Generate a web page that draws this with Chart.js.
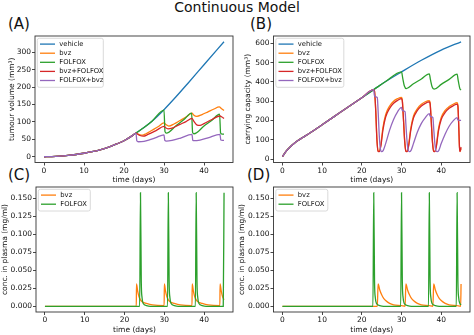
<!DOCTYPE html>
<html>
<head>
<meta charset="utf-8">
<script src="https://cdn.jsdelivr.net/npm/chart.js@4.4.0/dist/chart.umd.min.js"></script>
<style>
  body { margin: 0; background: #fff; width: 474px; height: 335px; overflow: hidden; position: relative; font-family: "DejaVu Sans", sans-serif; }
  .lbl { position: absolute; color: #111; white-space: nowrap; }
  .pane { position: absolute; }
</style>
</head>
<body>
<div class="lbl" style="left:0;width:474px;text-align:center;top:0;font-size:14px;line-height:14px">Continuous Model</div>
<div class="lbl" style="left:8px;top:17px;font-size:15px;line-height:15px">(A)</div>
<div class="lbl" style="left:250px;top:17px;font-size:15px;line-height:15px">(B)</div>
<div class="lbl" style="left:8px;top:168px;font-size:15px;line-height:15px">(C)</div>
<div class="lbl" style="left:247px;top:168px;font-size:15px;line-height:15px">(D)</div>

<div class="pane" style="left:0;top:28px;width:237px;height:162px"><canvas id="chartA"></canvas></div>
<div class="pane" style="left:237px;top:28px;width:237px;height:162px"><canvas id="chartB"></canvas></div>
<div class="pane" style="left:0;top:182px;width:237px;height:153px"><canvas id="chartC"></canvas></div>
<div class="pane" style="left:237px;top:182px;width:237px;height:153px"><canvas id="chartD"></canvas></div>

<script>
// ---- data ----
const xTicks = [0, 10, 20, 30, 40]
const volTicks = [0, 50, 100, 150, 200, 250, 300]
const capTicks = [0, 100, 200, 300, 400, 500, 600]
const concTicks = [0, 0.025, 0.05, 0.075, 0.1, 0.125, 0.15]

const armsAB = ["vehicle", "bvz", "FOLFOX", "bvz+FOLFOX", "FOLFOX+bvz"]
const armsCD = ["bvz", "FOLFOX"]

// (A) tumour volume, [day, mm^3]
const volPre = [[0,0],[2,0.5],[4,1.8],[6,3.8],[8,6.5],[10,10],[12,14.5],[14,20],[16,27],[18,36],[20,46],[22,60],[23,68]]
const volVehicle = [...volPre, [25,84],[27,102],[30,135],[33,172],[36,211],[40,264],[45,330]]
const volBvz = [...volPre, [23.3,66],[24,63],[24.6,62],[25.5,66],[27,76],[28.5,86],[30,97],[30.4,93],[31.2,88],[32.5,94],[34,104],[35.5,114],[37,125],[37.4,120],[38.2,116],[39.5,121],[41,129],[42.5,137],[43.8,143],[44.4,138],[45,133]]
const volFolfox = [...volPre, [25,84],[27,102],[30,134],[30.25,72],[30.6,68],[33,89],[35,107],[36.9,125],[37.15,70],[37.5,66],[40,88],[42,105],[43.9,122],[44.15,68],[44.5,65],[45,65]]
const volBvzFolfox = [...volPre, [23.3,66],[24,61],[24.8,59],[26,64],[28,75],[30,87],[30.4,83],[31,80],[32,82],[34,93],[35.5,101],[37,110],[37.4,103],[38.3,91],[39,90],[40,95],[42,107],[44,117],[44.5,114],[45,110]]
const volFolfoxBvz = [...volPre, [23.2,46],[23.6,43],[25,44],[26.5,49],[28,55],[30,63],[30.2,47],[30.6,45],[32,47],[34,53],[37,64],[37.2,47],[37.6,46],[39,48],[41,54],[44,64],[44.2,48],[44.6,47],[45,47]]

// (B) carrying capacity, [day, mm^3]
const capPre = [[0,12],[1,42],[2,64],[3,82],[4,97],[5,110],[7,136],[10,178],[13,220],[16,262],[20,318],[23,360]]
const capVehicle = [...capPre, [26,402],[30,452],[35,512],[40,565],[45,608]]
const capBvz = [...capPre, [23.2,352],[23.5,255],[23.8,105],[24.1,42],[24.4,40],[24.8,75],[25.3,160],[26,230],[27,275],[28,300],[29,313],[30,320],[30.2,306],[30.5,205],[30.8,95],[31.1,42],[31.4,40],[31.8,75],[32.3,155],[33,222],[34,262],[35,284],[36,297],[37,303],[37.2,292],[37.5,195],[37.8,90],[38.1,42],[38.4,40],[38.8,75],[39.3,155],[40,215],[41,252],[42,272],[43,284],[44,292],[44.2,280],[44.4,185],[44.6,65],[44.75,40],[45,55]]
const capFolfox = [...capPre, [26,402],[30,452],[30.3,420],[30.7,380],[31.2,365],[33,390],[35,415],[37,442],[37.3,410],[37.7,375],[38.2,362],[40,387],[42,413],[44,440],[44.3,405],[44.7,365],[45,358]]
const capBvzFolfox = [...capPre, [23.2,350],[23.5,250],[23.8,100],[24.1,40],[24.4,38],[24.8,68],[25.3,148],[26,218],[27,263],[28,289],[29,304],[30,313],[30.2,300],[30.5,200],[30.8,90],[31.1,40],[31.4,38],[31.8,68],[32.3,145],[33,212],[34,252],[35,275],[36,289],[37,296],[37.2,286],[37.5,190],[37.8,85],[38.1,40],[38.4,38],[38.8,68],[39.3,145],[40,205],[41,242],[42,263],[43,276],[44,285],[44.2,274],[44.4,180],[44.6,60],[44.75,38],[45,62]]
const capFolfoxBvz = [...capPre, [23.15,332],[23.5,322],[23.9,318],[24.1,250],[24.4,120],[24.7,50],[25,38],[25.4,45],[26,80],[27,150],[28,205],[29,245],[30,268],[30.15,255],[30.5,250],[30.9,245],[31.1,180],[31.4,90],[31.7,45],[32,38],[32.4,45],[33,80],[34,140],[35,185],[36,215],[37,235],[37.15,225],[37.5,220],[37.9,215],[38.1,160],[38.4,80],[38.7,42],[39,38],[39.4,45],[40,80],[41,130],[42,170],[43,198],[44,215],[44.15,205],[44.5,200],[45,200]]

// (C) and (D) plasma concentration, [day, mg/ml]
const concC_bvz = [[0,0],[22.95,0],[23,0.031],[23.3,0.021],[23.6,0.014],[24,0.009],[24.5,0.006],[25.5,0.004],[27,0.002],[29.95,0.001],[30,0.031],[30.3,0.021],[30.6,0.014],[31,0.009],[31.5,0.006],[32.5,0.004],[34,0.002],[36.95,0.001],[37,0.031],[37.3,0.021],[37.6,0.014],[38,0.009],[38.5,0.006],[39.5,0.004],[41,0.002],[43.95,0.001],[44,0.031],[44.3,0.021],[44.6,0.014],[45,0.009]]
const concC_folfox = [[0,0],[23.8,0],[24,0.158],[24.2,0.035],[24.4,0.012],[24.7,0.004],[25.5,0.001],[26.5,0],[30.8,0],[31,0.158],[31.2,0.035],[31.4,0.012],[31.7,0.004],[32.5,0.001],[33.5,0],[37.8,0],[38,0.158],[38.2,0.035],[38.4,0.012],[38.7,0.004],[39.5,0.001],[40.5,0],[44.8,0],[45,0.158]]
const concD_bvz = [[0,0],[23.9,0],[24.1,0.031],[24.5,0.023],[25,0.016],[25.5,0.011],[26,0.008],[27,0.004],[28,0.002],[30,0.001],[30.9,0],[31.1,0.031],[31.5,0.023],[32,0.016],[32.5,0.011],[33,0.008],[34,0.004],[35,0.002],[37,0.001],[37.9,0],[38.1,0.031],[38.5,0.023],[39,0.016],[39.5,0.011],[40,0.008],[41,0.004],[42,0.002],[44,0.001],[44.9,0],[45,0.031]]
const concD_folfox = [[0,0],[22.8,0],[23,0.158],[23.2,0.035],[23.4,0.012],[23.7,0.004],[24.5,0.001],[25.5,0],[29.8,0],[30,0.158],[30.2,0.035],[30.4,0.012],[30.7,0.004],[31.5,0.001],[32.5,0],[36.8,0],[37,0.158],[37.2,0.035],[37.4,0.012],[37.7,0.004],[38.5,0.001],[39.5,0],[43.8,0],[44,0.158],[44.2,0.035],[44.4,0.012],[44.7,0.004],[45,0.002]]

const tab = { blue: "#1f77b4", orange: "#ff7f0e", green: "#2ca02c", red: "#d62728", purple: "#9467bd" }

Chart.defaults.font.family = "'DejaVu Sans', sans-serif"
Chart.defaults.color = "#111"

// full box around the axes, like matplotlib spines
const framePlugin = {
  id: "frame",
  afterDatasetsDraw(chart) {
    const { ctx, chartArea: a } = chart
    ctx.save()
    ctx.strokeStyle = "#333"
    ctx.lineWidth = 0.9
    ctx.strokeRect(a.left, a.top, a.right - a.left, a.bottom - a.top)
    ctx.restore()
  }
}

// legend box in the upper left corner of the axes
const boxLegend = {
  id: "boxLegend",
  afterDraw(chart, args, opts) {
    const { ctx, chartArea: a } = chart
    const rowH = 9.1
    const x = a.left + 2.3, y = a.top + 2.3
    const h = opts.names.length * rowH + 3.5
    ctx.save()
    ctx.beginPath()
    ctx.roundRect(x, y, opts.width, h, 2)
    ctx.fillStyle = "rgba(255,255,255,0.85)"
    ctx.fill()
    ctx.strokeStyle = "#d0d0d0"
    ctx.lineWidth = 0.8
    ctx.stroke()
    ctx.font = "6.8px 'DejaVu Sans'"
    ctx.textBaseline = "middle"
    opts.names.forEach((n, i) => {
      const cy = y + 5.8 + i * rowH
      ctx.strokeStyle = opts.colors[i]
      ctx.lineWidth = 1.3
      ctx.beginPath()
      ctx.moveTo(x + 2.7, cy)
      ctx.lineTo(x + 17.7, cy)
      ctx.stroke()
      ctx.fillStyle = "#111"
      ctx.fillText(n, x + 22, cy)
    })
    ctx.restore()
  }
}

function makePanel(id, geo, series, colors, names, yTicks, yMin, yMax, yFmt, yTitle, legendW) {
  return new Chart(document.getElementById(id), {
    type: "line",
    data: {
      datasets: series.map((s, i) => ({
        label: names[i],
        data: s.map(p => ({ x: p[0], y: p[1] })),
        borderColor: colors[i],
        borderWidth: 1.3,
        pointRadius: 0,
        cubicInterpolationMode: "monotone",
        order: series.length - i
      }))
    },
    options: {
      responsive: true,
      maintainAspectRatio: false,
      animation: false,
      events: [],
      layout: { padding: { top: geo.padTop, right: geo.padRight, left: 0, bottom: 0 } },
      plugins: {
        legend: { display: false },
        tooltip: { enabled: false },
        boxLegend: { names: names, colors: colors, width: legendW }
      },
      scales: {
        x: {
          type: "linear", min: -2.25, max: 47.25,
          afterBuildTicks: s => { s.ticks = xTicks.map(v => ({ value: v })) },
          afterFit: s => { s.height = geo.xH; s.paddingLeft = 0; s.paddingRight = 0 },
          ticks: { autoSkip: false, maxRotation: 0, padding: 1, font: { size: 7.5 }, color: "#111", callback: v => String(v) },
          grid: { display: true, drawOnChartArea: false, drawTicks: true, tickLength: 3, tickColor: "#333", tickWidth: 0.9 },
          border: { display: false },
          title: { display: true, text: "time (days)", font: { size: 7.5 }, color: "#111", padding: { top: 0, bottom: geo.xTitlePad } }
        },
        y: {
          type: "linear", min: yMin, max: yMax,
          afterBuildTicks: s => { s.ticks = yTicks.map(v => ({ value: v })) },
          afterFit: s => { s.width = geo.yW; s.paddingTop = 0; s.paddingBottom = 0 },
          ticks: { autoSkip: false, padding: 1, font: { size: 7.5 }, color: "#111", callback: yFmt },
          grid: { display: true, drawOnChartArea: false, drawTicks: true, tickLength: 3, tickColor: "#333", tickWidth: 0.9 },
          border: { display: false },
          title: { display: true, text: yTitle, font: { size: 7.5 }, color: "#111", padding: { top: geo.yTitlePad, bottom: 0 } }
        }
      }
    },
    plugins: [framePlugin, boxLegend]
  })
}

const abColors = [tab.blue, tab.orange, tab.green, tab.red, tab.purple]
const cdColors = [tab.orange, tab.green]
const plain = v => String(v)
const three = v => v.toFixed(3)

makePanel("chartA", { padTop: 8, padRight: 4, yW: 35, xH: 27.5, xTitlePad: 5.5, yTitlePad: 7.5 },
  [volVehicle, volBvz, volFolfox, volBvzFolfox, volFolfoxBvz], abColors, armsAB,
  volTicks, -16.5, 346.5, plain, "tumour volume (mm³)", 66)

makePanel("chartB", { padTop: 8, padRight: 4, yW: 36.5, xH: 27.5, xTitlePad: 5.5, yTitlePad: 6.5 },
  [capVehicle, capBvz, capFolfox, capBvzFolfox, capFolfoxBvz], abColors, armsAB,
  capTicks, -18, 638, plain, "carrying capacity (mm³)", 68)

makePanel("chartC", { padTop: 5, padRight: 4, yW: 36, xH: 23, xTitlePad: 0.5, yTitlePad: 0.5 },
  [concC_bvz, concC_folfox], cdColors, armsCD,
  concTicks, -0.0079, 0.1659, three, "conc. in plasma (mg/ml)", 52)

makePanel("chartD", { padTop: 5, padRight: 4, yW: 36.5, xH: 23, xTitlePad: 0.5, yTitlePad: 0.5 },
  [concD_bvz, concD_folfox], cdColors, armsCD,
  concTicks, -0.0079, 0.1659, three, "conc. in plasma (mg/ml)", 52)
</script>
</body>
</html>
